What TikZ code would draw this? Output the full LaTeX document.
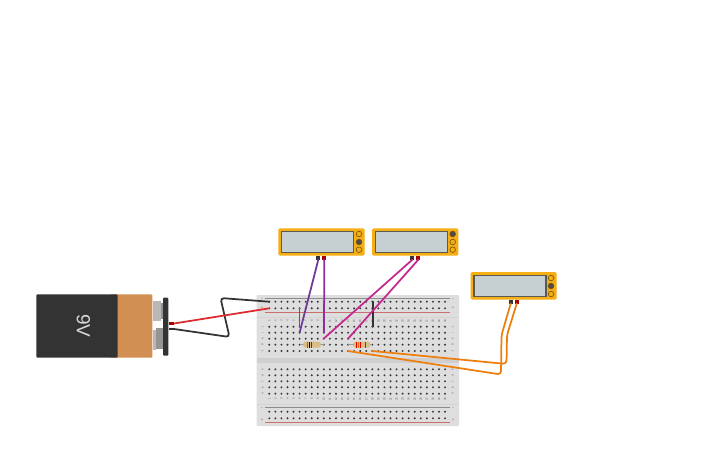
\documentclass[tikz,border=0pt]{standalone}
\usepackage{fontspec}
\setmainfont{Liberation Sans}
\definecolor{amber}{HTML}{F5AE14}
\definecolor{lcd}{HTML}{C6CFD1}
\definecolor{lcdedge}{HTML}{5A5A55}
\definecolor{board}{HTML}{DEDEDE}
\definecolor{holec}{HTML}{3A3A3A}
\definecolor{wred}{HTML}{DC2A2E}
\definecolor{wblack}{HTML}{333333}
\definecolor{wpurple}{HTML}{6F3A96}
\definecolor{wviolet}{HTML}{8E2FA0}
\definecolor{wmag}{HTML}{C4288E}
\definecolor{worange}{HTML}{EE7F0E}
\definecolor{tan}{HTML}{D9BC86}
\definecolor{copper}{HTML}{D28F54}
\definecolor{railred}{HTML}{CB6E6E}
\definecolor{railgray}{HTML}{8C8C8C}
\tikzset{
  x=1pt,y=-1pt,
  wirestyle/.style={line width=1.75pt,line cap=round,rounded corners=3.5pt},
  hole/.style={fill=holec,draw=none},
  tinylabel/.style={font=\fontsize{3}{3}\selectfont,text=black!60,inner sep=0pt},
  railsign/.style={font=\fontsize{5}{5}\selectfont,inner sep=0pt},
  knob/.style={circle,draw=black!55!amber,fill=amber,line width=.6pt,minimum size=5.6pt,inner sep=0pt},
  knobon/.style={circle,draw=black!55!amber,fill=black!70,line width=.6pt,minimum size=5.6pt,inner sep=0pt},
  meterbody/.style={fill=amber,draw=none,rounded corners=1.5pt},
  meterlcd/.style={fill=lcd,draw=lcdedge,line width=1.2pt},
  bterm/.style={fill=wblack,draw=none,minimum width=3.8pt,minimum height=4pt,inner sep=0pt},
  rterm/.style={fill=red!65!black,draw=none,minimum width=3.8pt,minimum height=4pt,inner sep=0pt},
}
\begin{document}
\begin{tikzpicture}
\useasboundingbox (0,0) rectangle (725,453);
\fill[white] (0,0) rectangle (725,453);

% ---------- breadboard ----------
\fill[board,rounded corners=1pt] (256.5,295) rectangle (459,426);
\fill[black!19] (256.5,358) rectangle (459,363);
\draw[black!17,line width=.5pt] (256.5,317) -- (459,317) (256.5,404) -- (459,404);
\draw[railgray,line width=1pt] (265,298.3) -- (450,298.3);
\draw[railred,line width=1pt] (265,312.7) -- (450,312.7);
\draw[railgray,line width=1pt] (265,407.7) -- (450,407.7);
\draw[railred,line width=1pt] (265,422.3) -- (450,422.3);
\foreach \yy/\sg/\cc in {300/-/black!60,308.5/+/railred,409/-/black!60,420/+/railred}{
  \node[railsign,text=\cc] at (262,\yy) {\sg};
  \node[railsign,text=\cc] at (453,\yy) {\sg};
}
\foreach \yy in {301.7,308.3,326.7,332.7,338.7,344.7,351,369.3,375.3,381.3,387.3,393.7,411.7,418.3}{
  \foreach \ii in {0,...,29}{
    \fill[hole] ({269.3+6.06*\ii},\yy) circle[radius=1.1];
  }
}
\foreach \ii in {1,...,30}{
  \node[tinylabel,rotate=90] at ({269.3+6.06*(\ii-1)},321) {\ii};
  \node[tinylabel,rotate=90] at ({269.3+6.06*(\ii-1)},399) {\ii};
}
\foreach \yy/\ll in {326.7/j,332.7/i,338.7/h,344.7/g,351/f,369.3/e,375.3/d,381.3/c,387.3/b,393.7/a}{
  \node[tinylabel,rotate=90] at (262.5,\yy) {\ll};
  \node[tinylabel,rotate=90] at (452.5,\yy) {\ll};
}
% board holes used by connectors
\coordinate (railneg) at (269.3,301.7);
\coordinate (railpos) at (269.3,308.3);
\coordinate (rj) at (299.6,308.3);
\coordinate (rk) at (299.6,326.7);
\coordinate (bj) at (372.9,301.7);
\coordinate (bk) at (372.9,326.7);
\coordinate (pa) at (299.6,332.7);
\coordinate (pb) at (324,332.7);
\coordinate (ma) at (323.6,338.7);
\coordinate (mb) at (348,338.7);
\coordinate (oa) at (348,351);
\coordinate (ob) at (372.3,351);

% ---------- resistors ----------
\coordinate (r1a) at (299.6,344.7);
\coordinate (r1b) at (324,344.7);
\coordinate (r2a) at (348,344.7);
\coordinate (r2b) at (372.3,344.7);
\draw[black!40,line width=1pt] (r1a) -- (r1b);
\draw[black!40,line width=1pt] (r2a) -- (r2b);
\fill[tan,rounded corners=2pt] (303.3,341.7) rectangle (320.7,347.7);
\fill[tan,rounded corners=2pt] (353.3,341.7) rectangle (370,347.7);
\foreach \xa/\cc in {306.5/brown!80!black,308.5/black,310.5/red!85!black,315/yellow!60!brown}{
  \fill[\cc] (\xa,341.7) rectangle ++(1.3,6);
}
\foreach \xa/\cc in {356/red!80!black,358/orange!80!red,360/red!85!black,364.5/black!70}{
  \fill[\cc] (\xa,341.7) rectangle ++(1.3,6);
}

% ---------- battery ----------
\fill[black!28] (152.7,300.7) rectangle (161,321);
\fill[black!42] (161,303) rectangle (163.3,319);
\fill[black!28] (152.7,330) rectangle (156,350);
\fill[black!42] (156,328.3) rectangle (163.3,349);
\fill[copper,rounded corners=1pt] (110,294.3) rectangle (152.3,357.7);
\fill[wblack,rounded corners=1pt] (36.3,294.3) rectangle (117.7,357.7);
\fill[wblack,rounded corners=1pt] (163,297.7) rectangle (168.3,355.7);
\node[rotate=-90,text=black!15,font=\fontsize{19}{19}\selectfont,inner sep=0pt] (nine) at (83.5,326) {9V};
\coordinate (batpos) at (174,323.5);
\coordinate (batneg) at (174,329);

% ---------- battery leads ----------
\draw[wirestyle,wblack] (batneg) -- (229.5,337) -- (220.5,298) -- (railneg);
\draw[wirestyle,wred] (batpos) -- (railpos);
\draw[red!65!black,line width=2.4pt] (169,323.5) -- (batpos);
\draw[wblack,line width=2.4pt] (169,329) -- (batneg);

% ---------- meters ----------
\fill[meterbody] (278.3,228.3) rectangle (364.7,255.7);
\draw[meterlcd] (281.7,231.7) rectangle (353.3,252.7);
\node[knob] (k1a) at (359,234) {};
\node[knobon] (k1b) at (359,242) {};
\node[knob] (k1c) at (359,249.7) {};
\node[bterm] (m1b) at (318.3,257.5) {};
\node[rterm] (m1r) at (324.3,257.5) {};

\fill[meterbody] (372,228.3) rectangle (458.3,255.7);
\draw[meterlcd] (375.3,231.7) rectangle (447.3,252.7);
\node[knobon] (k2a) at (452.7,234) {};
\node[knob] (k2b) at (452.7,242) {};
\node[knob] (k2c) at (452.7,249.7) {};
\node[bterm] (m2b) at (412.3,257.5) {};
\node[rterm] (m2r) at (418.3,257.5) {};

\fill[meterbody] (470.7,272) rectangle (556.7,299.7);
\draw[meterlcd] (474,275.7) rectangle (546,296.7);
\node[knob] (k3a) at (551,278) {};
\node[knobon] (k3b) at (551,286) {};
\node[knob] (k3c) at (551,294) {};
\node[bterm] (m3b) at (510.7,301.5) {};
\node[rterm] (m3r) at (516.7,301.5) {};

% ---------- wires ----------
\draw[wirestyle,wred] (rj) -- (rk);
\draw[wirestyle,wblack] (bj) -- (bk);
\draw[wirestyle,wpurple] (m1b.south) -- (pa);
\draw[wirestyle,wviolet] (m1r.south) -- (pb);
\draw[wirestyle,wmag] (m2b.south) -- (ma);
\draw[wirestyle,wmag] (m2r.south) -- (mb);
\draw[wirestyle,worange] (m3b.south) -- (501.5,335) -- (501,374.5) -- (oa);
\draw[wirestyle,worange] (m3r.south) -- (507,335) -- (506.5,364) -- (ob);
\end{tikzpicture}
\end{document}
